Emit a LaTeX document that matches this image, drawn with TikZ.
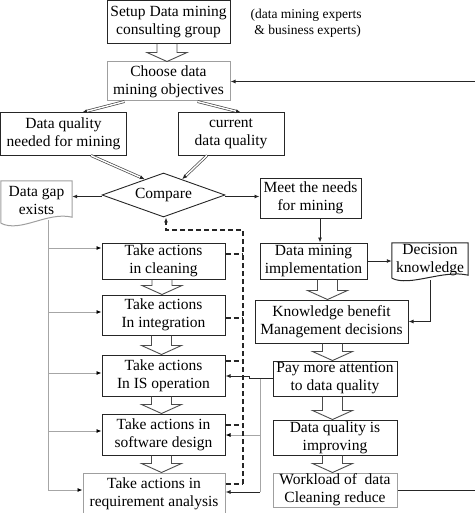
\documentclass[tikz,border=0pt]{standalone}
\usepackage{fontspec}
\setmainfont{Liberation Serif}
\usetikzlibrary{calc,arrows.meta,shapes.geometric}
\newcommand\holarr[3]{%
  \path (#2.north) ++(#3,0) coordinate (ht);
  \draw[hol] ($(ht |- #1.south)+(-10,0)$) -- ($(ht)+(-10,-9)$) -- ($(ht)+(-20,-9)$) -- (ht)
    -- ($(ht)+(20,-9)$) -- ($(ht)+(10,-9)$) -- ($(ht |- #1.south)+(10,0)$);}
\newcommand\dblarr[2]{%
  \draw[dbl, shorten >=4pt] #1 -- #2;
  \draw[arr] ($#2!5pt!#1$) -- #2;}
\begin{document}
\begin{tikzpicture}[x=1pt,y=-1pt,
  txt/.style={font=\fontsize{15.5}{18}\selectfont, align=center, inner sep=0pt},
  box/.style={txt, draw=black!85, line width=1pt},
  gbox/.style={txt, draw=gray!75, line width=1pt},
  arr/.style={-{Latex[length=5pt,width=4pt]}, line width=0.9pt, draw=black!85},
  garr/.style={-{Latex[length=5pt,width=4pt,color=black]}, line width=0.8pt, draw=gray!70},
  gline/.style={line width=0.8pt, draw=gray!70},
  dsh/.style={draw=black!85, line width=1.1pt, dash pattern=on 5pt off 3pt},
  hol/.style={draw=gray!60!black, line width=0.9pt, line join=miter},
  dbl/.style={draw=gray!55!black, double=white, double distance=1.4pt, line width=0.7pt}]
\useasboundingbox (0,0) rectangle (474,513);

% nodes
\node[box, minimum width=123pt, minimum height=43pt] (setup) at (168.5,22) {Setup Data mining\\consulting group};
\node[txt, font=\fontsize{13.5}{16}\selectfont] (note) at (306,23) {(data mining experts\\\ \& business experts)};
\node[gbox, minimum width=123pt, minimum height=39pt] (choose) at (168.5,81.5) {Choose data\\mining objectives};
\node[box, minimum width=126pt, minimum height=42pt] (need) at (63.5,134) {Data quality\\needed for mining};
\node[box, minimum width=106pt, minimum height=42pt] (cur) at (231,134) {current\\data quality};
\node[txt, diamond, aspect=2.8, draw=black!85, line width=0.9pt, minimum width=123pt, minimum height=44pt] (cmp) at (163.5,195) {Compare};
\node[txt, minimum width=71pt, minimum height=40pt] (gap) at (36.5,201) {Data gap\\exists};
\node[box, minimum width=101pt, minimum height=40pt] (meet) at (310.5,198) {Meet the needs\\for mining};
\node[box, minimum width=107pt, minimum height=36pt] (dmi) at (313.5,261) {Data mining\\implementation};
\node[txt, minimum width=76pt, minimum height=34pt] (dk) at (430,260) {Decision\\knowledge};
\node[box, minimum width=153pt, minimum height=43pt] (kb) at (331.5,321.5) {Knowledge benefit\\Management decisions};
\node[box, minimum width=123pt, minimum height=36pt] (clean) at (163.5,261) {Take actions\\in cleaning};
\node[box, minimum width=123pt, minimum height=40pt] (integ) at (163.5,315) {Take actions\\In integration};
\node[box, minimum width=123pt, minimum height=41pt] (isop) at (163.5,375.5) {Take actions\\In IS operation};
\node[box, minimum width=123pt, minimum height=41pt] (soft) at (163.5,434.5) {Take actions in\\software design};
\node[gbox, minimum width=142pt, minimum height=42pt] (req) at (154,494) {Take actions in\\requirement analysis};
\node[box, minimum width=124pt, minimum height=35pt] (pay) at (335,378.5) {Pay more attention\\to data quality};
\node[box, minimum width=124pt, minimum height=35pt] (dqi) at (335,437.5) {Data quality is\\improving};
\node[gbox, minimum width=124pt, minimum height=34pt] (work) at (335,490) {Workload of~ data\\Cleaning reduce};

\draw[line width=2pt, draw=black!85] (setup.north west) -- (setup.north east);

% document shapes
\draw[gbox] ($(gap.south west)+(0,2)$) -- (gap.north west) -- (gap.north east) -- ($(gap.south east)+(0,-4)$)
  .. controls ($(gap.south east)+(-25,-10)$) and ($(gap.south west)+(20,12)$) .. ($(gap.south west)+(0,2)$);
\draw[box] ($(dk.south west)+(0,1)$) -- (dk.north west) -- (dk.north east) -- ($(dk.south east)+(0,-2)$)
  .. controls ($(dk.south east)+(-25,-8)$) and ($(dk.south west)+(18,10)$) .. ($(dk.south west)+(0,1)$);

% hollow arrows
\holarr{setup}{choose}{-1.5}
\holarr{clean}{integ}{-1.5}
\holarr{integ}{isop}{-2}
\holarr{isop}{soft}{-2}
\holarr{soft}{req}{7.5}
\holarr{dmi}{kb}{-4}
\holarr{kb}{pay}{-2.5}
\holarr{pay}{dqi}{-2.5}
\holarr{dqi}{work}{-2.5}

% double-line arrows
\dblarr{($(choose.south west)+(18,0)$)}{($(need.north)+(18.5,0)$)}
\dblarr{($(choose.south east)+(-33,0)$)}{($(cur.north)+(10,0)$)}
\dblarr{($(need.south)+(27.5,0)$)}{($(cmp.west)!0.7!(cmp.north)$)}
\dblarr{($(cur.south)+(-24,0)$)}{($(cmp.east)!0.7!(cmp.north)$)}

% compare outputs
\draw[arr] ($(cmp.west)+(0,1.5)$) -- ($(gap.east |- cmp.west)+(0,1.5)$);
\draw[arr] ($(cmp.east)+(0,1.5)$) -- ($(meet.west |- cmp.east)+(0,1.5)$);
\draw[arr] ($(meet.south)+(9.5,0)$) -- ($(dmi.north -| meet.south)+(9.5,0)$);
\draw[arr] (dmi.east) -- (dk.west |- dmi.east);
\draw[arr] ($(dk.south)+(0,3)$) |- (kb.east);

% left distribution line
\coordinate (L) at (48,0);
\draw[gline] ($(L |- gap.south)+(0,-1)$) -- (L |- 0,490);
\draw[garr] (L |- 0,248) -- (clean.west |- 0,248);
\draw[garr] (L |- 0,312) -- (integ.west |- 0,312);
\draw[garr] (L |- 0,373) -- (isop.west |- 0,373);
\draw[garr] (L |- 0,431) -- (soft.west |- 0,431);
\draw[garr] (L |- 0,490) -- (req.west |- 0,490);

% pay more attention feedback
\coordinate (R) at (260,0);
\draw[arr] (pay.west) -- (249,378.5) -- (249,376) -- (isop.east |- 0,376);
\draw[gline] (R |- pay.west) -- (R |- 0,492);
\draw[garr] (R |- 0,435) -- (soft.east |- 0,435);
\draw[arr] (R |- 0,492) -- (req.east |- 0,492);

% dashed feedback to compare
\coordinate (D) at (243,0);
\draw[dsh] (clean.east |- 0,254) -- (D |- 0,254);
\draw[dsh] (integ.east |- 0,318) -- (D |- 0,318);
\draw[dsh] (isop.east |- 0,361) -- (D |- 0,361);
\draw[dsh] (soft.east |- 0,425) -- (D |- 0,425);
\draw[dsh] (req.east |- 0,484) -- (D |- 0,484);
\draw[dsh, -{Latex[length=5pt,width=4pt]}] (D |- 0,484) -- (D |- 0,230) -- (166,230) -- (cmp.south -| 166,0);

% long feedback to objectives
\draw[arr] (work.east) -- (478,490) |- (choose.east);
\end{tikzpicture}
\end{document}
